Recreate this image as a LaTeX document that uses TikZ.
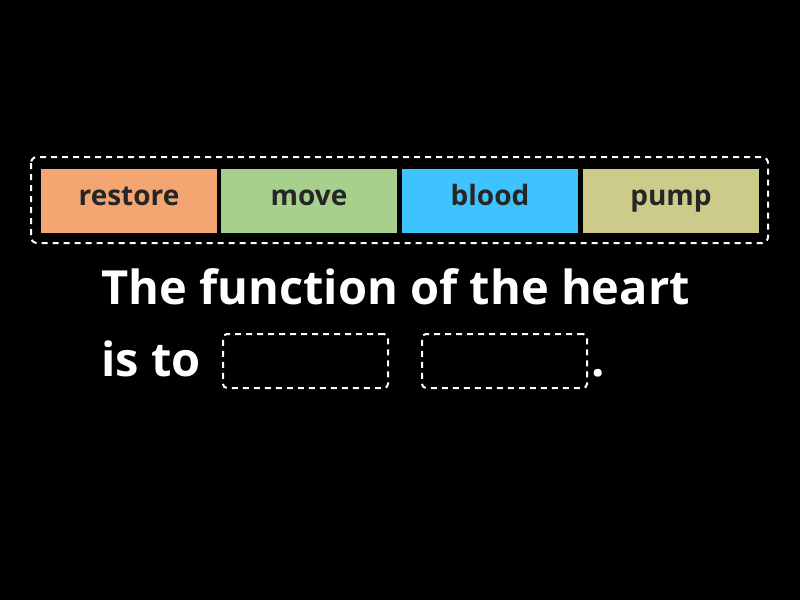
\documentclass[tikz,border=0pt]{standalone}
\usepackage{fontspec}
\setmainfont{Open Sans}
\usetikzlibrary{positioning}
\definecolor{cRestore}{HTML}{F4A672}
\definecolor{cMove}{HTML}{A8D08D}
\definecolor{cBlood}{HTML}{3EC3FF}
\definecolor{cPump}{HTML}{CCCB8A}
\tikzset{
  tile/.style={minimum width=176pt,minimum height=64pt,inner sep=0pt,
    text height=1.0em,text depth=0.1em,
    font=\fontsize{28}{34}\selectfont\bfseries,text=black!85},
  gap/.style={draw=white,line width=2pt,dash pattern=on 6pt off 5pt,
    rounded corners=4pt,minimum width=165pt,minimum height=54pt,inner sep=0pt},
  sentence/.style={font=\fontsize{47}{56}\selectfont\bfseries,text=white,
    inner sep=0pt,anchor=base west}
}
\begin{document}
\begin{tikzpicture}[x=1pt,y=-1pt]
  \fill[black] (0,0) rectangle (800,600);
  \useasboundingbox (0,0) rectangle (800,600);
  \draw[white,line width=2pt,dash pattern=on 6pt off 5pt,rounded corners=6pt]
    (31,157) rectangle (768,243);
  \node[tile,fill=cRestore] (restore) at (129,201) {restore};
  \node[tile,fill=cMove] (move) at (309,201) {move};
  \node[tile,fill=cBlood] (blood) at (490,201) {blood};
  \node[tile,fill=cPump] (pump) at (671,201) {pump};
  \node[sentence] (line1) at (101,304) {The function of the heart};
  \node[sentence] (line2) at (101,376) {is to};
  \node[gap] (gapA) at (305.5,361) {};
  \node[gap] (gapB) at (504.5,361) {};
  \node[sentence] (stop) at (591,376) {.};
\end{tikzpicture}
\end{document}
